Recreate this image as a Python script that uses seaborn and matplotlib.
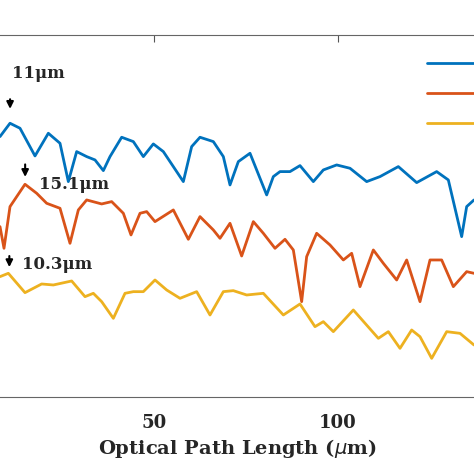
import numpy as np
import pandas as pd
import matplotlib
matplotlib.use('Agg')
import matplotlib.pyplot as plt
import seaborn as sns

# values (x in um, y as read position in image units)
blue_x_raw = [0, 30, 60, 105, 145, 180, 205, 230, 260, 285, 310, 330, 365, 400, 430, 460, 490, 520, 550, 575,
              600, 640, 670, 690, 715, 750, 800, 820, 840, 870, 900, 940, 970, 1010, 1050, 1100, 1140, 1195,
              1250, 1310, 1345, 1385, 1400, 1422]
blue_y_raw = [410, 370, 385, 468, 400, 430, 545, 455, 470, 480, 512, 470, 412, 425, 470, 432, 455, 500, 545, 440,
              412, 425, 470, 555, 485, 460, 585, 530, 515, 515, 497, 545, 510, 495, 505, 545, 530, 500,
              548, 515, 540, 710, 620, 600]
orange_x_raw = [0, 12, 30, 75, 110, 140, 180, 210, 235, 260, 305, 335, 370, 393, 420, 440, 465, 520, 565, 600,
                640, 660, 690, 725, 760, 790, 825, 855, 880, 905, 920, 950, 990, 1030, 1055, 1080, 1120, 1150,
                1190, 1220, 1260, 1290, 1325, 1360, 1400, 1422]
orange_y_raw = [680, 745, 620, 553, 580, 610, 625, 730, 630, 600, 612, 605, 640, 705, 640, 635, 665, 630, 718, 650,
                690, 715, 670, 768, 665, 700, 745, 718, 750, 905, 770, 700, 735, 780, 760, 860, 750, 790,
                840, 780, 905, 780, 780, 860, 815, 820]
yellow_x_raw = [0, 25, 75, 125, 160, 215, 255, 280, 305, 340, 375, 400, 430, 465, 500, 540, 590, 630, 670, 700,
                740, 790, 850, 900, 945, 970, 1000, 1060, 1135, 1165, 1200, 1235, 1260, 1295, 1340, 1380, 1422]
yellow_y_raw = [830, 820, 878, 852, 855, 843, 890, 880, 905, 955, 880, 875, 875, 840, 870, 895, 875, 945, 875, 872,
                885, 880, 945, 912, 980, 965, 995, 930, 1015, 995, 1045, 990, 1010, 1075, 995, 1000, 1035]

colors = ['#0072BD', '#D95319', '#EDB120']
series = ['blue', 'orange', 'yellow']


def to_um(v):
    return (np.array(v) + 90) / 11.03


def to_amp(v):
    return (1191 - np.array(v)) / 10.86


frames = []
for name, xr, yr in [('blue', blue_x_raw, blue_y_raw), ('orange', orange_x_raw, orange_y_raw),
                     ('yellow', yellow_x_raw, yellow_y_raw)]:
    frames.append(pd.DataFrame({'x': to_um(xr), 'y': to_amp(yr), 's': name}))
df = pd.concat(frames, ignore_index=True)

sns.set_style('white')
serif = ['DejaVu Serif']
fig = plt.figure(figsize=(4.74, 4.74), dpi=100)
ax = fig.add_axes([0.0, 0.1624, 1.0, 0.764])
sns.lineplot(data=df, x='x', y='y', hue='s', palette=colors, sort=False, estimator=None,
             linewidth=2.0, legend=False, ax=ax)
ax.set_xlim(to_um(0), to_um(1422))
ax.set_ylim(0, 100)
ax.set_xticks([50, 100])
ax.set_xticklabels(['50', '100'], fontfamily=serif, fontweight='bold', fontsize=13)
ax.set_yticks([])
ax.tick_params(axis='x', direction='in', top=True, length=5, color='#555555', pad=12)
for sp in ax.spines.values():
    sp.set_color('#666666')
    sp.set_linewidth(0.8)
ax.spines['left'].set_visible(False)
ax.spines['right'].set_visible(False)
ax.set_xlabel('Optical Path Length ($\\mu$m)', fontfamily=serif, fontweight='bold', fontsize=14, labelpad=4)
ax.set_ylabel('')

# legend line samples (labels are outside the crop)
for c, yy in zip(colors, [0.923, 0.840, 0.757]):
    ax.plot([0.9, 1.0], [yy, yy], color=c, lw=2.0, transform=ax.transAxes, clip_on=False)

# peak annotations
notes = [('11μm', 10.9, 83, 78.8, 11.3, 89.2),
         ('15.1μm', 15.0, 65, 60, 18.9, 58.6),
         ('10.3μm', 10.7, 39.7, 35.1, 14.05, 36.5)]
for txt, ax_x, y0, y1, tx, ty in notes:
    ax.annotate('', xy=(ax_x, y1), xytext=(ax_x, y0),
                arrowprops=dict(arrowstyle='-|>', color='black', lw=1.5, mutation_scale=10))
    ax.text(tx, ty, txt, fontfamily=serif, fontweight='bold', fontsize=12, va='center', ha='left')

fig.savefig('out.png', dpi=100)
